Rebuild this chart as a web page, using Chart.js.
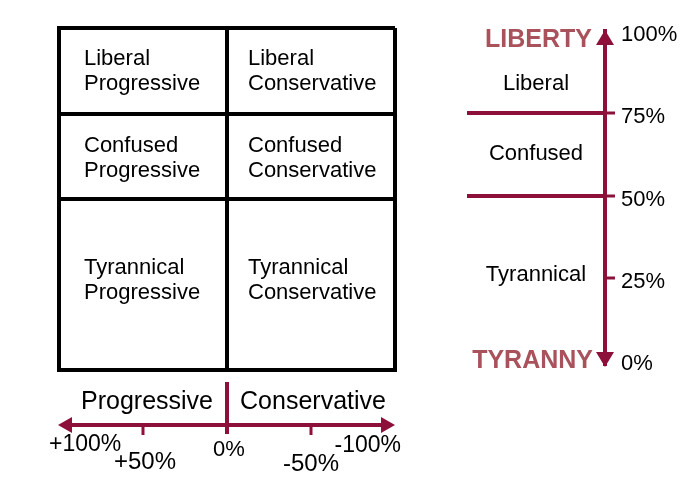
<!DOCTYPE html>
<html><head><meta charset="utf-8">
<script src="https://cdn.jsdelivr.net/npm/chart.js@4"></script>
<style>
html,body{margin:0;padding:0;background:#fff;}
#wrap{position:relative;width:684px;height:496px;background:#fff;}
#wrap canvas{position:absolute;left:0;top:0;}
</style>
</head><body>
<div id="wrap"><canvas id="grid" width="684" height="496"></canvas><canvas id="axis" width="684" height="496"></canvas></div>
<script>
// ---- data ----
const ideologies = ['Progressive', 'Conservative'];
const ideologyRange = [[100, 0], [0, -100]];
const libertyZones = ['Liberal', 'Confused', 'Tyrannical'];
const zoneBounds = [[100, 75], [75, 50], [50, 0]];
const zoneLabelValue = [84, 62.5, 26];
const xTickValues = [100, 50, 0, -50, -100];
const xTickLabels = ['+100%', '+50%', '0%', '-50%', '-100%'];
const yTickValues = [0, 25, 50, 75, 100];
const yTickLabels = ['0%', '25%', '50%', '75%', '100%'];
const poleLabels = ['LIBERTY', 'TYRANNY'];

// ---- style ----
const FONT = "'Liberation Sans', Arial, sans-serif";
Chart.defaults.font.family = FONT;
const MAROON = '#8c1039';
const POLE = '#a9525c';

function arrowHead(ctx, tx, ty, dir, len, half) {
  ctx.beginPath();
  if (dir === 'left') { ctx.moveTo(tx, ty); ctx.lineTo(tx + len, ty - half); ctx.lineTo(tx + len, ty + half); }
  if (dir === 'right') { ctx.moveTo(tx, ty); ctx.lineTo(tx - len, ty - half); ctx.lineTo(tx - len, ty + half); }
  if (dir === 'up') { ctx.moveTo(tx, ty); ctx.lineTo(tx - half, ty + len); ctx.lineTo(tx + half, ty + len); }
  if (dir === 'down') { ctx.moveTo(tx, ty); ctx.lineTo(tx - half, ty - len); ctx.lineTo(tx + half, ty - len); }
  ctx.closePath();
  ctx.fill();
}

const gridBounds = [...new Set(ideologyRange.flat())];
const zoneEdges = [...new Set(zoneBounds.flat())];

const gridPlugin = {
  id: 'gridText',
  afterDraw(chart) {
    const { ctx, chartArea, scales: { x, y } } = chart;
    ctx.save();
    // cell labels
    ctx.fillStyle = '#000';
    ctx.font = '22px ' + FONT;
    ctx.textAlign = 'left';
    ctx.textBaseline = 'alphabetic';
    const colPad = [25, 21];
    const rowShift = [-2, 0, -7];
    libertyZones.forEach((zone, i) => {
      const yMid = (y.getPixelForValue(zoneBounds[i][0]) + y.getPixelForValue(zoneBounds[i][1])) / 2;
      ideologies.forEach((ideo, j) => {
        const xl = x.getPixelForValue(ideologyRange[j][0]);
        ctx.fillText(zone, xl + colPad[j], yMid - 4 + rowShift[i]);
        ctx.fillText(ideo, xl + colPad[j], yMid + 21 + rowShift[i]);
      });
    });
    // bottom ideology axis
    const ay = chartArea.bottom + 55;
    const xL = x.getPixelForValue(xTickValues[0]);
    const xR = x.getPixelForValue(xTickValues[xTickValues.length - 1]);
    ctx.strokeStyle = MAROON; ctx.fillStyle = MAROON;
    ctx.lineWidth = 4;
    ctx.beginPath(); ctx.moveTo(xL + 8, ay); ctx.lineTo(xR - 8, ay); ctx.stroke();
    arrowHead(ctx, xL - 1, ay, 'left', 14, 8);
    arrowHead(ctx, xR, ay, 'right', 14, 8);
    xTickValues.forEach((v, k) => {
      if (k === 0 || k === xTickValues.length - 1) return;
      const px = x.getPixelForValue(v);
      ctx.beginPath();
      if (v === 0) { ctx.lineWidth = 4; ctx.moveTo(px, ay - 43); ctx.lineTo(px, ay + 9); }
      else { ctx.lineWidth = 3; ctx.moveTo(px, ay); ctx.lineTo(px, ay + 10); }
      ctx.stroke();
    });
    // ideology names
    ctx.fillStyle = '#000';
    ctx.font = '25px ' + FONT;
    ctx.textAlign = 'center';
    ctx.textBaseline = 'middle';
    ideologies.forEach((ideo, j) => {
      const cx = (x.getPixelForValue(ideologyRange[j][0]) + x.getPixelForValue(ideologyRange[j][1])) / 2;
      ctx.fillText(ideo, cx + (j === 0 ? 4 : 2), ay - 23);
    });
    // tick labels (staggered)
    const sizes = [23, 24, 22, 24, 23];
    const dys = [20, 37, 24.5, 39, 21];
    const aligns = ['left', 'center', 'center', 'center', 'right'];
    const dxs = [-10, 2, 2, 0, 6];
    xTickValues.forEach((v, k) => {
      ctx.font = sizes[k] + 'px ' + FONT;
      ctx.textAlign = aligns[k];
      ctx.fillText(xTickLabels[k], x.getPixelForValue(v) + dxs[k], ay + dys[k]);
    });
    ctx.restore();
  }
};

new Chart(document.getElementById('grid'), {
  type: 'scatter',
  data: { datasets: [] },
  options: {
    responsive: false, animation: false, devicePixelRatio: 1,
    layout: { padding: { left: 59, right: 289, top: 28, bottom: 126 } },
    plugins: { legend: { display: false }, tooltip: { enabled: false } },
    scales: {
      x: {
        type: 'linear', min: -100, max: 100, reverse: true,
        afterBuildTicks(s) { s.ticks = gridBounds.map(v => ({ value: v })); },
        ticks: { display: false },
        grid: { color: '#000', lineWidth: 4, drawTicks: false },
        border: { display: true, color: '#000', width: 4 }
      },
      y: {
        type: 'linear', min: 0, max: 100,
        afterBuildTicks(s) { s.ticks = zoneEdges.map(v => ({ value: v })); },
        ticks: { display: false },
        grid: { color: '#000', lineWidth: 4, drawTicks: false },
        border: { display: true, color: '#000', width: 4 }
      }
    }
  },
  plugins: [gridPlugin]
});

const axisPlugin = {
  id: 'libertyAxis',
  afterDraw(chart) {
    const { ctx, chartArea, scales: { y } } = chart;
    const sx = chartArea.right;
    ctx.save();
    ctx.fillStyle = MAROON;
    const top = y.getPixelForValue(yTickValues[yTickValues.length - 1]);
    const bot = y.getPixelForValue(yTickValues[0]);
    arrowHead(ctx, sx, top - 1, 'up', 15, 9);
    ctx.fillRect(sx - 2, bot - 2, 4, 8);
    arrowHead(ctx, sx, bot + 7, 'down', 15, 9);
    // pole labels
    ctx.fillStyle = POLE;
    ctx.font = 'bold 25px ' + FONT;
    ctx.textAlign = 'right';
    ctx.textBaseline = 'alphabetic';
    ctx.fillText(poleLabels[0], sx - 13, top + 16);
    ctx.fillText(poleLabels[1], sx - 12, bot + 8);
    // zone labels
    ctx.fillStyle = '#000';
    ctx.font = '22px ' + FONT;
    ctx.textAlign = 'center';
    ctx.textBaseline = 'middle';
    const cx = (chartArea.left + chartArea.right) / 2;
    libertyZones.forEach((z, i) => {
      ctx.fillText(z, cx, y.getPixelForValue(zoneLabelValue[i]));
    });
    ctx.restore();
  }
};

const innerEdges = zoneEdges.filter(v => v !== 0 && v !== 100);
new Chart(document.getElementById('axis'), {
  type: 'scatter',
  data: { datasets: [] },
  options: {
    responsive: false, animation: false, devicePixelRatio: 1,
    layout: { padding: { left: 467, right: 0, top: 31, bottom: 136 } },
    plugins: { legend: { display: false }, tooltip: { enabled: false } },
    scales: {
      x: { type: 'linear', display: false, min: 0, max: 1 },
      y: {
        type: 'linear', position: 'right', min: 0, max: 100,
        afterBuildTicks(s) { s.ticks = yTickValues.map(v => ({ value: v })); },
        afterFit(s) { s.width = 79; },
        ticks: {
          color: '#000', font: { size: 22 }, padding: 6, labelOffset: 4,
          callback(v) { return yTickLabels[yTickValues.indexOf(v)]; }
        },
        grid: {
          drawOnChartArea: true,
          color: c => innerEdges.includes(c.tick && c.tick.value) ? MAROON : 'rgba(0,0,0,0)',
          lineWidth: 4,
          tickColor: c => (c.tick && c.tick.value > 0 && c.tick.value < 100) ? MAROON : 'rgba(0,0,0,0)',
          tickLength: 10,
          tickWidth: 3
        },
        border: { display: true, color: MAROON, width: 4 }
      }
    }
  },
  plugins: [axisPlugin]
});
</script>
</body></html>
